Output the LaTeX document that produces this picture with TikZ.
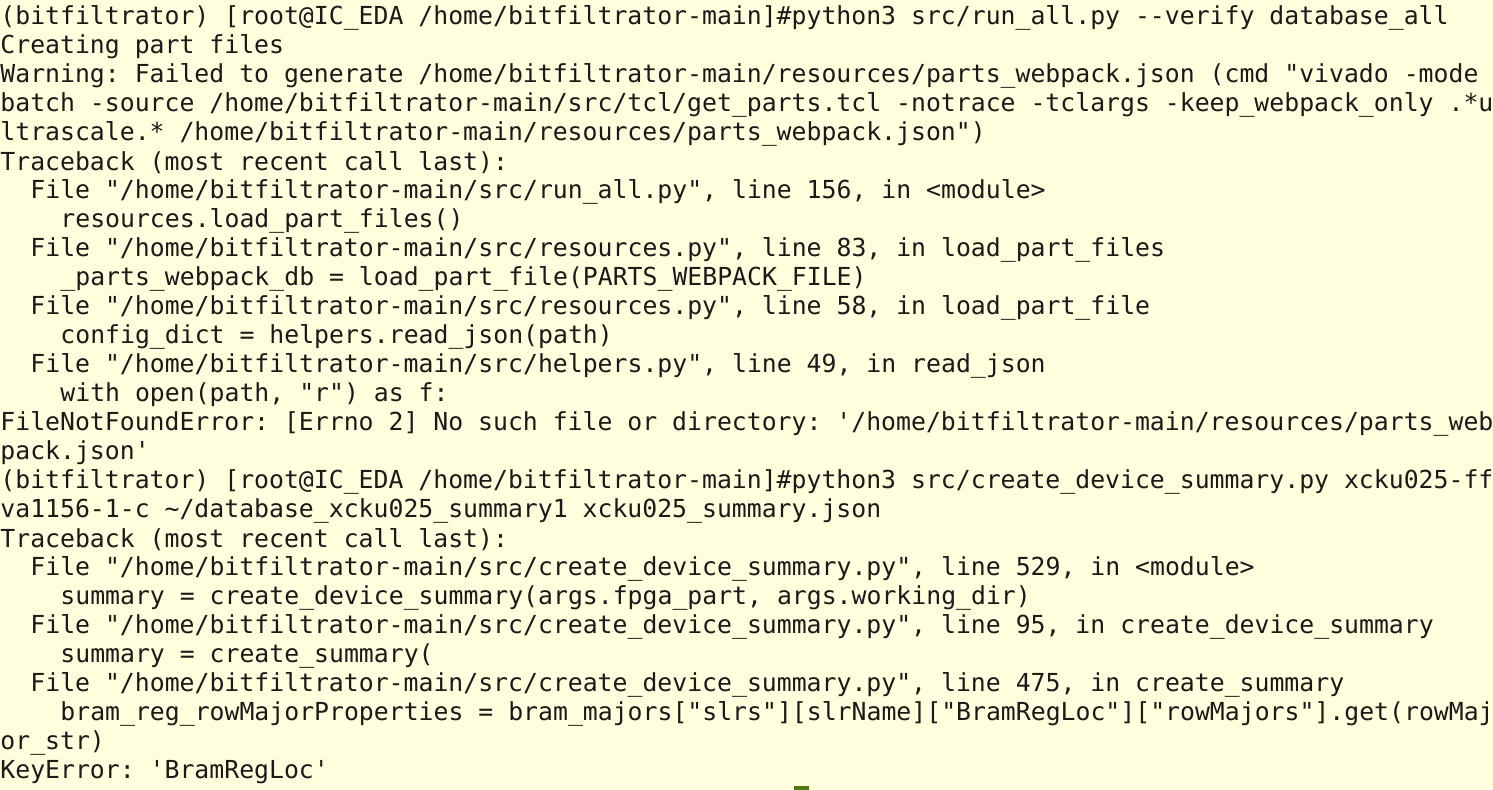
\documentclass[tikz,border=0pt]{standalone}
\usepackage{fontspec}
\setmonofont{DejaVu Sans Mono}
\definecolor{bg}{HTML}{FFFFDD}
\definecolor{txt}{HTML}{1A1A1A}
\definecolor{cur}{HTML}{4E7A0E}
\begin{document}
\begin{tikzpicture}[x=0.5pt,y=-0.5pt,
  ln/.style={anchor=west,inner sep=0pt,font=\ttfamily\fontsize{12.4pt}{14pt}\selectfont,text=txt}]
\useasboundingbox (0,0) rectangle (1493,790);
\fill[bg] (0,0) rectangle (1493,790);
\begin{scope}
\clip (0,0) rectangle (1493,790);
\node[ln] (l0) at (0,18) {(bitfiltrator) [root@IC\_EDA /home/bitfiltrator-main]\#python3 src/run\_all.py --verify database\_all};
\node[ln] (l1) at (0,47) {Creating part files};
\node[ln] (l2) at (0,76) {Warning: Failed to generate /home/bitfiltrator-main/resources/parts\_webpack.json (cmd "vivado -mode};
\node[ln] (l3) at (0,105) {batch -source /home/bitfiltrator-main/src/tcl/get\_parts.tcl -notrace -tclargs -keep\_webpack\_only .*u};
\node[ln] (l4) at (0,134) {ltrascale.* /home/bitfiltrator-main/resources/parts\_webpack.json")};
\node[ln] (l5) at (0,163) {Traceback (most recent call last):};
\node[ln] (l6) at (30,192) {File "/home/bitfiltrator-main/src/run\_all.py", line 156, in <module>};
\node[ln] (l7) at (60,221) {resources.load\_part\_files()};
\node[ln] (l8) at (30,250) {File "/home/bitfiltrator-main/src/resources.py", line 83, in load\_part\_files};
\node[ln] (l9) at (60,279) {\_parts\_webpack\_db = load\_part\_file(PARTS\_WEBPACK\_FILE)};
\node[ln] (l10) at (30,308) {File "/home/bitfiltrator-main/src/resources.py", line 58, in load\_part\_file};
\node[ln] (l11) at (60,337) {config\_dict = helpers.read\_json(path)};
\node[ln] (l12) at (30,366) {File "/home/bitfiltrator-main/src/helpers.py", line 49, in read\_json};
\node[ln] (l13) at (60,395) {with open(path, "r") as f:};
\node[ln] (l14) at (0,424) {FileNotFoundError: [Errno 2] No such file or directory: '/home/bitfiltrator-main/resources/parts\_web};
\node[ln] (l15) at (0,453) {pack.json'};
\node[ln] (l16) at (0,482) {(bitfiltrator) [root@IC\_EDA /home/bitfiltrator-main]\#python3 src/create\_device\_summary.py xcku025-ff};
\node[ln] (l17) at (0,511) {va1156-1-c \textasciitilde/database\_xcku025\_summary1 xcku025\_summary.json};
\node[ln] (l18) at (0,540) {Traceback (most recent call last):};
\node[ln] (l19) at (30,569) {File "/home/bitfiltrator-main/src/create\_device\_summary.py", line 529, in <module>};
\node[ln] (l20) at (60,598) {summary = create\_device\_summary(args.fpga\_part, args.working\_dir)};
\node[ln] (l21) at (30,627) {File "/home/bitfiltrator-main/src/create\_device\_summary.py", line 95, in create\_device\_summary};
\node[ln] (l22) at (60,656) {summary = create\_summary(};
\node[ln] (l23) at (30,685) {File "/home/bitfiltrator-main/src/create\_device\_summary.py", line 475, in create\_summary};
\node[ln] (l24) at (60,714) {bram\_reg\_rowMajorProperties = bram\_majors["slrs"][slrName]["BramRegLoc"]["rowMajors"].get(rowMaj};
\node[ln] (l25) at (0,743) {or\_str)};
\node[ln] (l26) at (0,772) {KeyError: 'BramRegLoc'};
\fill[cur] (794,786) rectangle (809,790);
\end{scope}
\end{tikzpicture}
\end{document}
